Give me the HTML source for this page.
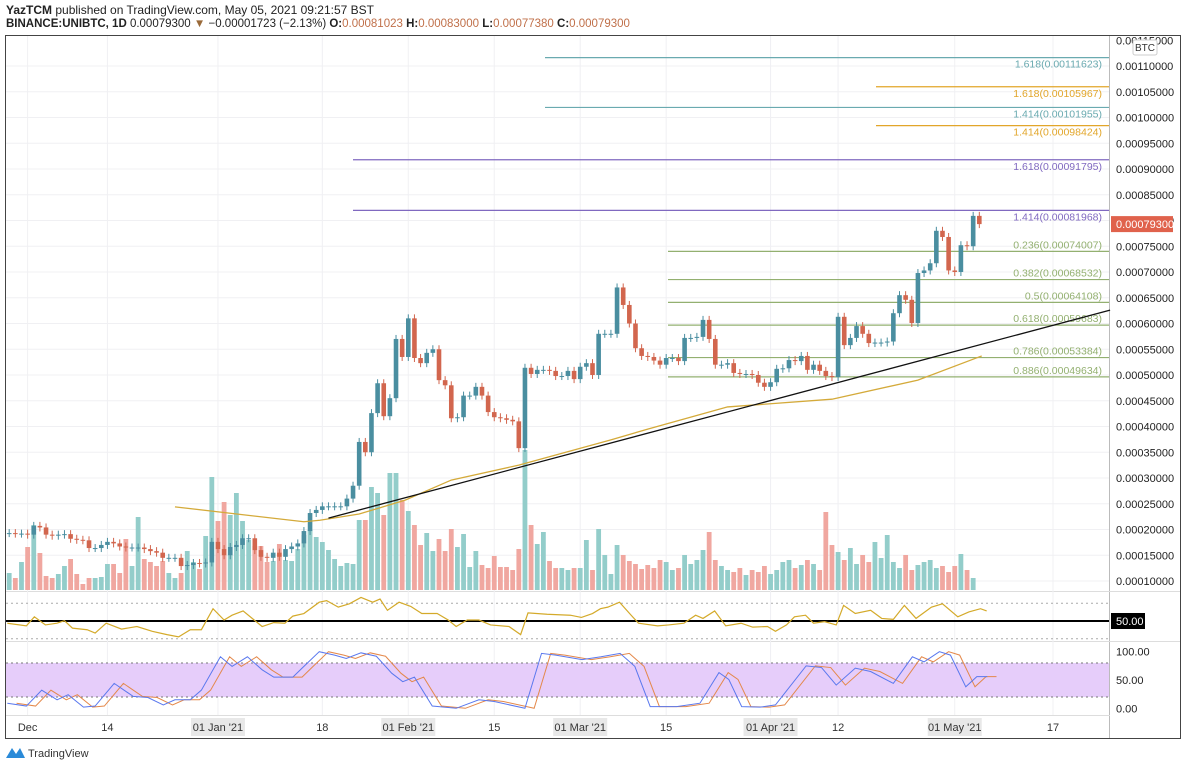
<!DOCTYPE html>
<html><head><meta charset="utf-8">
<style>
html,body{margin:0;padding:0;background:#fff;}
body{width:1186px;height:768px;overflow:hidden;font-family:"Liberation Sans",sans-serif;}
svg text{font-family:"Liberation Sans",sans-serif;}
</style></head>
<body>
<svg id="chart" width="1186" height="768" viewBox="0 0 1186 768" xmlns="http://www.w3.org/2000/svg">
<text x="6" y="14" font-size="12" fill="#222"><tspan font-weight="bold">YazTCM</tspan> published on TradingView.com, May 05, 2021 09:21:57 BST</text>
<text x="6" y="27" font-size="11.5" fill="#222"><tspan font-weight="bold">BINANCE:UNIBTC, 1D</tspan> 0.00079300 <tspan fill="#9a6a3a">▼</tspan> −0.00001723 (−2.13%) <tspan font-weight="bold">O:</tspan><tspan fill="#c0704a">0.00081023</tspan> <tspan font-weight="bold">H:</tspan><tspan fill="#c0704a">0.00083000</tspan> <tspan font-weight="bold">L:</tspan><tspan fill="#c0704a">0.00077380</tspan> <tspan font-weight="bold">C:</tspan><tspan fill="#c0704a">0.00079300</tspan></text>
<rect x="5.5" y="35.5" width="1175" height="703" fill="none" stroke="#444" stroke-width="1"/>
<line x1="1109.5" y1="36" x2="1109.5" y2="738" stroke="#bbb"/>
<line x1="6" y1="591.5" x2="1180" y2="591.5" stroke="#ddd"/>
<line x1="6" y1="641.5" x2="1180" y2="641.5" stroke="#ddd"/>
<line x1="6" y1="715.5" x2="1110" y2="715.5" stroke="#ddd"/>
<g id="grid"></g>
<g id="fibs"></g>
<g id="vol"></g>
<g id="candles"></g>
<g id="lines"></g>
<g id="rsi"></g>
<g id="stoch"></g>
<g id="axes"></g>
<rect x="1133" y="40" width="24" height="15" fill="#fff" stroke="#ccc" rx="2"/>
<text x="1145" y="51" font-size="10" text-anchor="middle" fill="#333">BTC</text>
<g>
<path d="M6 758 L12 748 L16 754 L20 748 L25 758 Z" fill="#2a8ad8"/>
<text x="28" y="757" font-size="11" fill="#333">TradingView</text>
</g>
</svg>
<script>
// ---- data ----
const closes=[19.3,19.2,19.2,19.0,20.7,20.4,19.0,18.8,19.0,19.1,18.2,18.0,17.9,16.4,16.4,17.0,17.6,17.3,16.7,16.5,16.5,16.5,16.2,15.8,15.5,14.5,14.5,14.5,12.9,13.1,13.5,13.4,13.6,17.6,16.2,15.0,16.6,17.0,18.3,18.3,16.0,14.7,14.5,15.5,14.7,16.2,16.7,17.3,19.7,23.2,23.8,24.5,
24.5,24.5,24.5,26,28.5,37,35,42.6,48.4,42,45.5,57,53.5,61,53.3,52.3,54.3,55,49,48,41.6,41.8,46,46,47.7,46,42.8,41.8,41.6,41.3,41,35.8,51.4,50.2,51,51,50.8,49.8,49.8,50.8,49.2,51.6,52.3,50,58,58,58,67,63.6,60,55.2,53.7,53.5,
52.8,52,53.3,53.3,52.7,57.2,57.2,57.4,60.7,57,52,52,52.3,50.4,50.2,50.2,50,48.5,47.7,48.6,51.2,51.3,52.9,52.7,53.7,51,52,50.8,49.8,49.6,61.3,55.8,57.2,59.5,58,56.2,56.3,56.3,56.5,62,65.5,64.6,60.1,69.8,70.3,71.7,78,76.8,70.3,70,75.2,75,80.9,79.3];
const volumes=[17,12,28,43,65,37,14,12,16,24,31,16,6,12,12,13,26,26,17,51,24,73,31,28,24,29,17,12,17,39,28,21,54,113,69,88,75,97,69,50,44,44,28,29,46,30,29,41,55,60,53,48,
40,31,24,27,26,70,70,103,97,75,117,117,90,79,65,45,57,39,51,39,61,43,56,23,39,25,22,34,23,23,20,41,140,65,46,58,29,22,22,20,22,22,50,20,61,35,16,45,35,29,26,21,
25,22,30,28,20,22,35,26,30,40,58,30,24,20,18,22,15,20,18,24,16,20,28,30,22,25,30,26,20,78,45,38,30,42,26,35,28,48,32,55,28,22,35,20,25,28,30,22,24,18,24,36,20,12];
const maDays=[24,45,47.6,54,61.5,69,80,95,101,114,131,145,155.4];
const maValues=[24.4,21.5,21.8,23,25.7,29.6,32.5,37.4,39.5,43.8,45.3,49,53.7];
const trendDays=[49,176.3];
const trendValues=[22.2,62.6];
const fibValues=[111.623,105.967,101.955,98.424,91.795,81.968,74.007,68.532,64.108,59.683,53.384,49.634];
const fibLabels=["1.618","1.618","1.414","1.414","1.618","1.414","0.236","0.382","0.5","0.618","0.786","0.886"];
const fibKinds=["teal","orange","teal","orange","purple","purple","green","green","green","green","green","green"];
const rsiDays=[-3.3,-0.2,1.1,2.9,4.8,6.0,7.3,9.7,11,12.8,15.3,17.8,20.3,22.7,24.6,26.5,28.3,30.2,32,33.3,35.1,38.2,40.1,41.9,43.2,45,47.5,48.7,50.6,52.4,54.3,56.2,57.4,58.6,60.5,62.4,64.2,66.7,68.5,69.8,71.6,73.5,75.4,78.4,80.3,81.5,84.6,88.4,90.2,92,93.3,94.5,96.4,98.3,99.5,102.6,104.4,106.9,108.8,110,111.9,113.7,116.2,118.1,120.5,121.8,123.6,124.9,126.7,128,129.8,131.7,132.9,134.8,137.3,139.1,141,142.8,144.7,147.2,149,151.5,153.3,155.2,156.2];
const rsiValues=[47.5,44.5,54.7,45.6,47.5,50.4,42,40.2,36.5,47.5,40.9,43.8,38.4,34.7,32.2,40.2,40.2,63.8,51.1,56.5,61.3,43.8,48.2,47.5,55.5,58.4,71.1,72.9,65.6,69.3,76.5,71.1,74.7,62,71.1,66.4,58.4,58.4,51.1,43.8,51.1,51.1,45.6,43.8,34.7,59.1,57.6,56.5,54,58.4,63.8,65.6,71.1,56.5,47.5,44.5,45.6,47.5,56.5,52.9,61.3,44.5,47.5,43.1,43.8,38.4,45.6,54.7,56.5,47.5,49.3,45.6,67.5,58.4,62,52.9,51.8,67.5,52.9,65.6,69.3,54.7,60.2,63.8,61.3];
const stochDays=[-3.3,-0.2,2.3,4.8,6.6,9.1,11,14.1,17.2,19.6,22.1,24,26.5,28.3,31.4,33.3,35.8,38.2,40.1,43.2,45,47.5,50,51.9,54.3,56.8,59.3,61.1,63,65.9,69.8,73.5,76,81,83.7,86,90.3,93.4,96.5,98.9,101.4,105.7,109.5,112.6,114.2,116.3,119.3,121.8,126.8,129.3,131.7,134.8,137.3,141,144.1,146,148.5,150.3,152.8,154.6,156.3];
const stochK=[9,4,32,15,24,2,4,44,21,19,6,15,15,32,91,74,91,68,55,55,74,100,94,88,98,92,62,47,55,4,0,15,12,0,97,94,86,91,97,74,3,3,9,63,51,3,2,6,75,72,41,71,65,44,91,82,100,94,38,56,56];
const priceTicks=[115,110,105,100,95,90,85,80,75,70,65,60,55,50,45,40,35,30,25,20,15,10];
const timeLabels=["Dec","14","01 Jan '21","18","01 Feb '21","15","01 Mar '21","15","01 Apr '21","12","01 May '21","17"];
const timeDays=[0,13,31,48,62,76,90,104,121,132,151,167];
// ---- scales ----
const NS="http://www.w3.org/2000/svg";
const yP=p=>66+(110-p)*5.15;
const xI=i=>9.2+i*6.14;
const xD=d=>27.6+d*6.14;
const yRsi=v=>621-(v-50)*0.89;
const ySt=v=>708.3-v*0.566;
const yVol=v=>590-v;
function mk(tag,attrs,parent){const e=document.createElementNS(NS,tag);for(const k in attrs)e.setAttribute(k,attrs[k]);document.getElementById(parent).appendChild(e);return e;}
// grid
priceTicks.forEach(p=>{const y=yP(p);
 if(p<115){const g=mk('line',{x1:6,x2:1109,y1:y,y2:y,stroke:'#f0f0f3'},'grid');
 
 }
 const t=mk('text',{x:1116,y:y+4,'font-size':11,fill:'#222'},'axes');t.textContent=(p/100000).toFixed(8);
 
 
});
timeLabels.forEach((s,i)=>{const x=xD(timeDays[i]);
 const g=mk('line',{x1:x,x2:x,y1:36,y2:715,stroke:'#f0f0f3'},'grid');
 
 
 if(s.indexOf("'")>0){const r=mk('rect',{x:x-27,y:718,width:54,height:18,fill:'#e8e8e8'},'axes');
 
 }
 const t=mk('text',{x:x,y:731,'font-size':11,'text-anchor':'middle',fill:'#333'},'axes');t.textContent=s;
 
 
});
// fibs
const fibCol={teal:'#6aaab0',orange:'#e2a62a',purple:'#8069c0',green:'#93b070'};
const fibStart={teal:545,orange:876,purple:353,green:668};
fibValues.forEach((v,i)=>{const y=yP(v),k=fibKinds[i];
 const l=mk('line',{x1:fibStart[k],x2:1109,y1:y,y2:y,stroke:fibCol[k],'stroke-width':1.2},'fibs');
 
 
 const t=mk('text',{x:1102,y:k==='green'?y-3:y+10,'font-size':10.5,'text-anchor':'end',fill:fibCol[k]},'fibs');
 t.textContent=fibLabels[i]+'('+(v/100000).toFixed(8)+')';
 
 
});
// candles + volume
closes.forEach((c,i)=>{const o=i===0?c:closes[i-1];const up=c>=o;const x=xI(i);
 const v=mk('rect',{x:x-2.4,y:yVol(volumes[i]),width:4.8,height:volumes[i],fill:up?'#93cdca':'#f0a7a0'},'vol');
 
 
 const col=up?'#4a8ea0':'#d2664e';
 const top=yP(Math.max(o,c)),bot=yP(Math.min(o,c));
 const w=mk('line',{x1:x,x2:x,y1:top-4,y2:bot+4,stroke:col,'stroke-width':1},'candles');
 
 
 const b=mk('rect',{x:x-2.3,y:top,width:4.6,height:Math.max(1,bot-top),fill:col},'candles');
 
 
});
// MA & trendline
const ma=mk('polyline',{points:maDays.map((d,i)=>xD(d)+','+yP(maValues[i])).join(' '),fill:'none',stroke:'#d4aa3a','stroke-width':1.3},'lines');


const tl=mk('line',{x1:xD(trendDays[0]),y1:yP(trendValues[0]),x2:xD(trendDays[1]),y2:yP(trendValues[1]),stroke:'#111','stroke-width':1.3},'lines');


// current price
const pr=mk('rect',{x:1111,y:yP(79.3)-8,width:62,height:16,fill:'#e0624c'},'axes');


const pt=mk('text',{x:1116,y:yP(79.3)+4,'font-size':11,fill:'#fff'},'axes');pt.textContent='0.00079300';


// RSI
[70,30].forEach(v=>{const l=mk('line',{x1:6,x2:1109,y1:yRsi(v),y2:yRsi(v),stroke:'#aaa','stroke-dasharray':'2,3'},'rsi');
 
 });
const mid=mk('line',{x1:6,x2:1109,y1:yRsi(50),y2:yRsi(50),stroke:'#000','stroke-width':2},'rsi');


const rl=mk('polyline',{points:rsiDays.map((d,i)=>xD(d)+','+yRsi(rsiValues[i])).join(' '),fill:'none',stroke:'#d4aa2a','stroke-width':1.2},'rsi');


const rb=mk('rect',{x:1111,y:yRsi(50)-8,width:34,height:16,fill:'#000'},'rsi');


const rt=mk('text',{x:1116,y:yRsi(50)+4,'font-size':11,fill:'#fff'},'rsi');rt.textContent='50.00';


// Stoch
const sf=mk('rect',{x:6,y:ySt(80),width:1103,height:ySt(20)-ySt(80),fill:'#e6cdfa'},'stoch');


[80,20].forEach(v=>{const l=mk('line',{x1:6,x2:1109,y1:ySt(v),y2:ySt(v),stroke:'#777','stroke-dasharray':'2,3'},'stoch');
 
 });
const dl=mk('polyline',{points:stochDays.map((d,i)=>xD(d+1.5)+','+ySt(stochK[i])).join(' '),fill:'none',stroke:'#e4884a','stroke-width':1},'stoch');


const kl=mk('polyline',{points:stochDays.map((d,i)=>xD(d)+','+ySt(stochK[i])).join(' '),fill:'none',stroke:'#5a78ee','stroke-width':1},'stoch');


[100,50,0].forEach(v=>{const t=mk('text',{x:1116,y:ySt(v)+4,'font-size':11,fill:'#222'},'stoch');t.textContent=v.toFixed(2);
 
 });
</script>
</body></html>
